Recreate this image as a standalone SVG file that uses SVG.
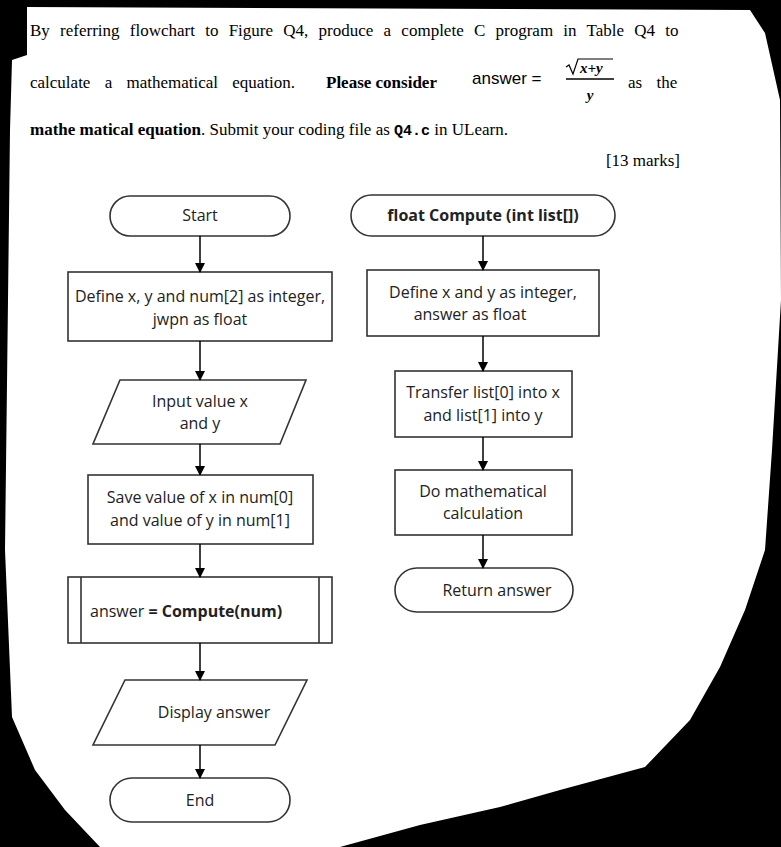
<svg xmlns="http://www.w3.org/2000/svg" width="781" height="847" viewBox="0 0 781 847">
<defs>
<marker id="ah" markerWidth="10" markerHeight="10" refX="9" refY="5" orient="auto" markerUnits="userSpaceOnUse"><path d="M0,0 L10,5 L0,10 z" fill="#000"/></marker>
<style>
.s{fill:#fff;stroke:#333;stroke-width:1.6}
.t{font-family:"Open Sans","Liberation Sans",sans-serif;font-size:16px;fill:#222;text-anchor:middle}
.l{text-anchor:start}
.b{font-weight:bold}
.q{font-family:"Liberation Serif",serif;font-size:17px;fill:#000}
.c line{stroke:#000;stroke-width:1.5;marker-end:url(#ah)}
</style>
</defs>
<rect width="781" height="847" fill="#000"/>
<path d="M27,7 L750,10 L765,33 L780,100 L781,300 L772,450 L765,550 L745,610 L720,667 L690,720 L645,767 L560,790 L500,807 L420,825 L340,847 L100,847 L65,810 L35,770 L12,717 L5,550 L8,300 L10,130 L12,60 L27,55 z" fill="#fff"/>
<text class="q" x="30" y="36" word-spacing="6">By referring flowchart to Figure Q4, produce a complete C program in Table Q4 to</text>
<text class="q" x="30" y="88" word-spacing="10">calculate a mathematical equation.</text>
<text class="q b" x="326" y="88" font-weight="bold">Please consider</text>
<text x="472" y="84" font-family="Liberation Sans,sans-serif" font-size="17">answer =</text>
<line x1="566" y1="79" x2="614" y2="79" stroke="#000" stroke-width="1.5"/>
<path d="M566,67 L569,65 L573,74 L578,59 L613,59" fill="none" stroke="#000" stroke-width="1.2"/>
<text x="580" y="73" font-family="Liberation Serif,serif" font-style="italic" font-weight="bold" font-size="15">x+y</text>
<text x="590" y="100" font-family="Liberation Serif,serif" font-style="italic" font-weight="bold" font-size="15" text-anchor="middle">y</text>
<text class="q" x="628" y="88" word-spacing="10">as the</text>
<text class="q" x="30" y="135"><tspan font-weight="bold">mathe matical equation</tspan>. Submit your coding file as <tspan font-family="Liberation Mono,monospace" font-weight="bold" font-size="15">Q4.c</tspan> in ULearn.</text>
<text class="q" x="680" y="166" text-anchor="end">[13 marks]</text>

<g id="start"><rect class="s" x="110" y="196" width="180" height="40" rx="20"/><text class="t" x="200" y="221">Start</text></g>
<g id="define1"><rect class="s" x="68" y="272" width="264" height="69"/><text class="t" x="200" y="302">Define x, y and num[2] as integer,</text><text class="t" x="200" y="325">jwpn as float</text></g>
<g id="input"><polygon class="s" points="120,380 306,380 280,444 93,444"/><text class="t" x="200" y="407">Input value x</text><text class="t" x="200" y="429">and y</text></g>
<g id="save"><rect class="s" x="88" y="475" width="225" height="69"/><text class="t" x="200" y="503">Save value of x in num[0]</text><text class="t" x="200" y="526">and value of y in num[1]</text></g>
<g id="compute"><rect class="s" x="68" y="577" width="264" height="66"/><line x1="81" y1="577" x2="81" y2="643" stroke="#333" stroke-width="1.6"/><line x1="319" y1="577" x2="319" y2="643" stroke="#333" stroke-width="1.6"/><text class="t l" x="90" y="617">answer <tspan class="b">= Compute(num)</tspan></text></g>
<g id="display"><polygon class="s" points="125,680 307,680 275,745 93,745"/><text class="t" x="214" y="718">Display answer</text></g>
<g id="end"><rect class="s" x="110" y="778" width="180" height="44" rx="22"/><text class="t" x="200" y="806">End</text></g>

<g id="fstart"><rect class="s" x="351" y="195" width="264" height="41" rx="20.5"/><text class="t b" x="483" y="221">float Compute (int list[])</text></g>
<g id="define2"><rect class="s" x="367" y="270" width="232" height="66"/><text class="t" x="483" y="298">Define x and y as integer,</text><text class="t" x="470" y="320">answer as float</text></g>
<g id="transfer"><rect class="s" x="395" y="371" width="177" height="66"/><text class="t" x="483" y="398">Transfer list[0] into x</text><text class="t" x="483" y="421">and list[1] into y</text></g>
<g id="domath"><rect class="s" x="395" y="470" width="177" height="65"/><text class="t" x="483" y="497">Do mathematical</text><text class="t" x="483" y="519">calculation</text></g>
<g id="return"><rect class="s" x="395" y="568" width="178" height="44" rx="22"/><text class="t" x="497" y="596">Return answer</text></g>

<g class="c">
<line x1="200" y1="236" x2="200" y2="272"/>
<line x1="200" y1="341" x2="200" y2="380"/>
<line x1="200" y1="444" x2="200" y2="475"/>
<line x1="200" y1="544" x2="200" y2="577"/>
<line x1="200" y1="643" x2="200" y2="680"/>
<line x1="200" y1="745" x2="200" y2="778"/>
<line x1="483" y1="236" x2="483" y2="270"/>
<line x1="483" y1="336" x2="483" y2="371"/>
<line x1="483" y1="437" x2="483" y2="470"/>
<line x1="483" y1="535" x2="483" y2="568"/>
</g>
</svg>
